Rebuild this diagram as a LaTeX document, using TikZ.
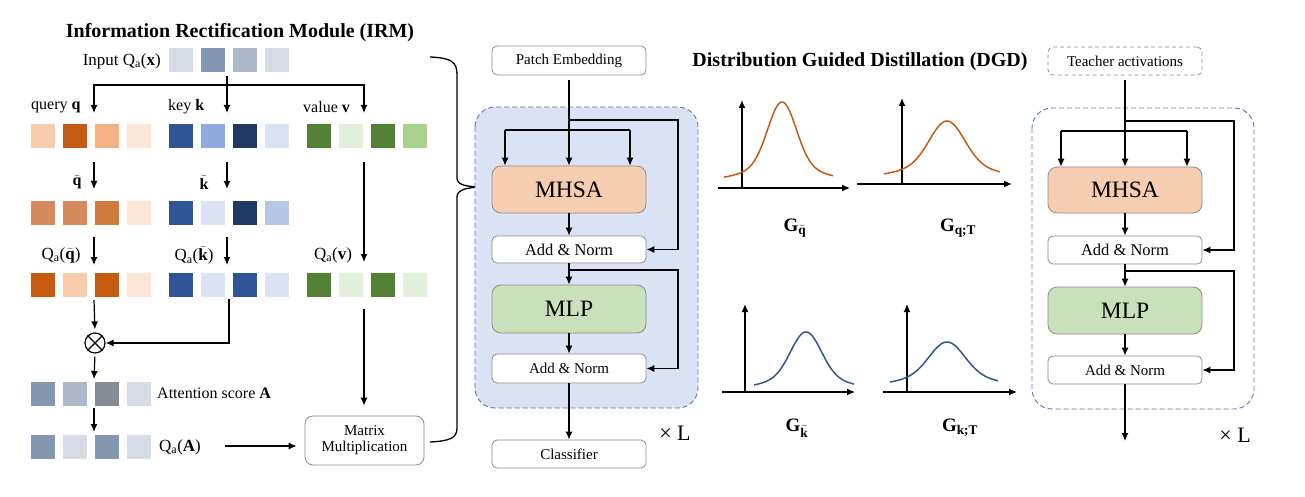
\documentclass[tikz,border=0pt]{standalone}
\usepackage{fontspec}
\setmainfont{Liberation Serif}
\usetikzlibrary{arrows.meta,calc}
\definecolor{inA}{HTML}{D6DCE5}
\definecolor{inB}{HTML}{8497B0}
\definecolor{inC}{HTML}{ADB9CA}
\definecolor{atG}{HTML}{868C96}
\definecolor{qa}{HTML}{F8CBAD}
\definecolor{qb}{HTML}{C55A11}
\definecolor{qc}{HTML}{F4B183}
\definecolor{qd}{HTML}{FBE5D6}
\definecolor{qt}{HTML}{D6895A}
\definecolor{qu}{HTML}{D07C3F}
\definecolor{ka}{HTML}{2F5597}
\definecolor{kb}{HTML}{8FAADC}
\definecolor{kc}{HTML}{203864}
\definecolor{kd}{HTML}{DAE3F3}
\definecolor{ke}{HTML}{B4C7E7}
\definecolor{va}{HTML}{548235}
\definecolor{vb}{HTML}{E2F0D9}
\definecolor{vc}{HTML}{A9D18E}
\definecolor{boxgray}{HTML}{8C8C8C}
\definecolor{dashblue}{HTML}{5A78AA}
\definecolor{blockfill}{HTML}{DAE3F3}
\definecolor{mhsafill}{HTML}{F6CDB0}
\definecolor{mlpfill}{HTML}{C9E1BA}
\definecolor{curveO}{HTML}{C55A11}
\definecolor{curveB}{HTML}{2F5597}
\newcommand{\myTitle}{\fontsize{20}{22}\selectfont\bfseries}
\newcommand{\myLab}{\fontsize{16}{18}\selectfont}
\newcommand{\myBox}{\fontsize{15}{17}\selectfont}
\newcommand{\myBig}{\fontsize{23.5}{25}\selectfont}
\newcommand{\myXL}{\fontsize{22}{24}\selectfont}
\newcommand{\myG}{\fontsize{19}{21}\selectfont\bfseries}
\begin{document}
\begin{tikzpicture}[x=1pt,y=-1pt,
  sq/.style={minimum size=24pt,inner sep=0pt,outer sep=0pt},
  box/.style={draw=boxgray,rounded corners=5pt,minimum width=154pt,inner sep=0pt,fill=white,line width=0.8pt,font=\myBox},
  bigbox/.style={box,rounded corners=9pt,minimum height=47pt,font=\myBig},
  arr/.style={-{Latex[length=8pt,width=7pt]},line width=1.2pt},
  ln/.style={line width=1.2pt},
  axis/.style={-{Latex[length=8pt,width=7pt]},line width=1.4pt},
  crv/.style={line width=1.5pt,smooth},
  lab/.style={font=\myLab,inner sep=0pt}]
\useasboundingbox (0,0) rectangle (1305,497);

% ---------------- IRM ----------------
\node[font=\myTitle] (irmT) at (240,33) {Information Rectification Module (IRM)};
\node[lab,font=\fontsize{17}{19}\selectfont,anchor=east] (inL) at (161,61) {Input Q\textsubscript{a}(\textbf{x})};
\foreach \c [count=\i] in {inA,inB,inC,inA} \node[sq,fill=\c] (in\i) at ({149+32*\i},60) {};

\coordinate (s0) at (227,76);
\coordinate (s1) at (227,85);
\coordinate (qIn) at (94,113);
\coordinate (kIn) at (227,113);
\coordinate (vIn) at (364,113);
\draw[ln] (s0) -- (s1);
\draw[arr] (s1) -| (qIn);
\draw[arr] (s1) -- (kIn);
\draw[arr] (s1) -| (vIn);

\node[lab,anchor=west] (qL) at (31,107) {query \textbf{q}};
\node[lab,anchor=west] (kL) at (168,107) {key \textbf{k}};
\node[lab,anchor=west] (vL) at (303,107) {value \textbf{v}};

% row 1
\foreach \c [count=\i] in {qa,qb,qc,qd} \node[sq,fill=\c] (q1\i) at ({11+32*\i},136) {};
\foreach \c [count=\i] in {ka,kb,kc,kd} \node[sq,fill=\c] (k1\i) at ({149+32*\i},136) {};
\foreach \c [count=\i] in {va,vb,va,vc} \node[sq,fill=\c] (v1\i) at ({286.5+32*\i},136) {};

\coordinate (q1o) at (94,162); \coordinate (q2i) at (94,189);
\coordinate (k1o) at (227,162); \coordinate (k2i) at (227,189);
\coordinate (v1o) at (364,162); \coordinate (v3i) at (364,262);
\draw[arr] (q1o) -- (q2i);
\draw[arr] (k1o) -- (k2i);
\draw[arr] (v1o) -- (v3i);
\node[lab] (qtL) at (77,182) {$\widetilde{\mathbf{q}}$};
\node[lab] (ktL) at (204,182) {$\widetilde{\mathbf{k}}$};

% row 2
\foreach \c [count=\i] in {qt,qt,qu,qd} \node[sq,fill=\c] (q2\i) at ({11+32*\i},212.5) {};
\foreach \c [count=\i] in {ka,kd,kc,ke} \node[sq,fill=\c] (k2\i) at ({149+32*\i},212.5) {};

\coordinate (q2o) at (94,237); \coordinate (q3i) at (94,265);
\coordinate (k2o) at (227,237); \coordinate (k3i) at (227,265);
\draw[arr] (q2o) -- (q3i);
\draw[arr] (k2o) -- (k3i);
\node[lab,font=\fontsize{17}{19}\selectfont] (q3L) at (61,255) {Q\textsubscript{a}($\widetilde{\mathbf{q}}$)};
\node[lab,font=\fontsize{17}{19}\selectfont] (k3L) at (194,255) {Q\textsubscript{a}($\widetilde{\mathbf{k}}$)};
\node[lab,font=\fontsize{17}{19}\selectfont] (v3L) at (333,255) {Q\textsubscript{a}(\textbf{v})};

% row 3
\foreach \c [count=\i] in {qb,qa,qb,qd} \node[sq,fill=\c] (q3\i) at ({11+32*\i},284.5) {};
\foreach \c [count=\i] in {ka,kd,ka,kd} \node[sq,fill=\c] (k3\i) at ({149+32*\i},284.5) {};
\foreach \c [count=\i] in {va,vb,va,vb} \node[sq,fill=\c] (v3\i) at ({286.5+32*\i},284.5) {};

% otimes
\node[circle,draw,line width=1.2pt,minimum size=20pt,inner sep=0pt] (ot) at (95,343) {};
\draw[line width=1.1pt] (ot.north west) -- (ot.south east) (ot.north east) -- (ot.south west);
\coordinate (q3o) at (94,300);
\coordinate (k3o) at (229,299);
\draw[arr,shorten >=3pt] (q3o) -- (ot.north);
\draw[arr] (k3o) |- (ot.east);
\coordinate (atIn) at (94,379);
\draw[arr,shorten <=3pt] (ot.south) -- (atIn);

% attention
\foreach \c [count=\i] in {inB,inC,atG,inA} \node[sq,fill=\c] (a\i) at ({11+32*\i},394) {};
\node[lab,anchor=west] (aL) at (157,393) {Attention score \textbf{A}};
\coordinate (aO) at (94,408); \coordinate (qaI) at (94,432);
\draw[arr] (aO) -- (qaI);
\foreach \c [count=\i] in {inB,inA,inB,inA} \node[sq,fill=\c] (qa\i) at ({11+32*\i},447) {};
\node[lab,font=\fontsize{17}{19}\selectfont,anchor=west] (qaL) at (159,447) {Q\textsubscript{a}(\textbf{A})};

\node[box,minimum width=119pt,minimum height=49pt,align=center,rounded corners=8pt] (mm) at (364.5,440.5) {Matrix\\[-1pt]Multiplication};
\coordinate (qaO) at (225,446);
\draw[arr,shorten >=8pt] (qaO) -- (qaO -| mm.west);
\coordinate (v3o) at (364,309);
\draw[arr,shorten >=10pt] (v3o) -- (v3o |- mm.north);

% brace
\draw[line width=1.3pt] (430,57) .. controls (452,58) and (457,62) .. (457,75)
  -- (457,178) .. controls (457,185) and (466,187) .. (485,187)
  (485,187) .. controls (466,187) and (457,190) .. (457,197)
  -- (457,428) .. controls (457,438) and (450,441) .. (430,442);

% ---------------- student block ----------------
\draw[dashed,dash pattern=on 5pt off 3pt,draw=dashblue,fill=blockfill,rounded corners=20pt,line width=0.9pt] (475,107) rectangle (698,408);
\node[box,minimum height=29pt] (pe) at (569,60.5) {Patch Embedding};
\node[bigbox,fill=mhsafill] (mh1) at (569,189.5) {MHSA};
\node[box,minimum height=27pt,font=\fontsize{16.5}{18}\selectfont] (an1) at (569,249.5) {Add \& Norm};
\node[bigbox,fill=mlpfill,minimum height=48pt] (ml1) at (569,309) {MLP};
\node[box,minimum height=29pt] (an2) at (569,368.5) {Add \& Norm};
\node[box,minimum height=28pt] (cls) at (569,454) {Classifier};

\coordinate (pe0) at (569,80);
\draw[arr] (pe0) -- (mh1.north);
\coordinate (b1) at (569,120);
\coordinate (b1r) at (678,120);
\draw[arr] (b1) -- (b1r) |- (an1.east);
\coordinate (b2l) at (505,130);
\coordinate (b2r) at (630,130);
\draw[ln] (b2l) -- (b2r);
\draw[arr] (b2l) -- (b2l |- mh1.north);
\draw[arr] (b2r) -- (b2r |- mh1.north);
\draw[arr] (mh1.south) -- (an1.north);
\draw[arr] (an1.south) -- (ml1.north);
\coordinate (b3) at (569,270);
\coordinate (b3r) at (678,270);
\draw[arr] (b3) -- (b3r) |- (an2.east);
\draw[arr] (ml1.south) -- (an2.north);
\draw[arr] (an2.south) -- (cls.north);
\node[font=\myXL] (xl1) at (675,433) {× L};

% ---------------- DGD ----------------
\node[font=\myTitle] (dgdT) at (860,62) {Distribution Guided Distillation (DGD)};

% graph 1
\draw[axis] (718,188) -- (850,188);
\draw[axis] (742,188) -- (742,100);
\draw[crv,curveO] plot[domain=724:833,samples=90] (\x,{181-64*exp(((\x-782)^2)/(-392))-15*exp(((\x-782)^2)/(-2450))});
\node[font=\myG] (g1L) at (795,228) {G\textsubscript{$\widetilde{\mathbf{q}}$}};
% graph 2
\draw[axis] (857,184) -- (1012,184);
\draw[axis] (902,184) -- (902,98);
\draw[crv,curveO] plot[domain=884:1000,samples=90] (\x,{178-43*exp(((\x-947)^2)/(-578))-14*exp(((\x-947)^2)/(-3200))});
\node[font=\myG] (g2L) at (958,228) {G\textsubscript{\textbf{q};T}};
% graph 3
\draw[axis] (722,392) -- (855,392);
\draw[axis] (745,392) -- (745,304);
\draw[crv,curveB] plot[domain=754:854,samples=90] (\x,{389-45*exp(((\x-806)^2)/(-450))-12*exp(((\x-806)^2)/(-2450))});
\node[font=\myG] (g3L) at (797,428) {G\textsubscript{$\widetilde{\mathbf{k}}$}};
% graph 4
\draw[axis] (883,392) -- (1017,392);
\draw[axis] (907,392) -- (907,304);
\draw[crv,curveB] plot[domain=890:998,samples=90] (\x,{386-32*exp(((\x-947)^2)/(-578))-12*exp(((\x-947)^2)/(-2888))});
\node[font=\myG] (g4L) at (960,428) {G\textsubscript{\textbf{k};T}};

% ---------------- teacher block ----------------
\draw[dashed,dash pattern=on 5pt off 3pt,draw=dashblue,rounded corners=20pt,line width=0.9pt] (1032,108) rectangle (1254,409);
\node[box,minimum height=28pt,dashed,dash pattern=on 4pt off 3pt,draw=boxgray] (ta) at (1125,61) {Teacher activations};
\node[bigbox,fill=mhsafill,minimum height=46pt] (mh2) at (1125,190) {MHSA};
\node[box,minimum height=28pt,font=\fontsize{16.5}{18}\selectfont] (an3) at (1125,250) {Add \& Norm};
\node[bigbox,fill=mlpfill] (ml2) at (1125,310.5) {MLP};
\node[box,minimum height=28pt] (an4) at (1125,370) {Add \& Norm};

\coordinate (ta0) at (1125,80);
\draw[arr] (ta0) -- (mh2.north);
\coordinate (c1) at (1125,121);
\coordinate (c1r) at (1234,121);
\draw[arr] (c1) -- (c1r) |- (an3.east);
\coordinate (c2l) at (1061,131);
\coordinate (c2r) at (1187,131);
\draw[ln] (c2l) -- (c2r);
\draw[arr] (c2l) -- (c2l |- mh2.north);
\draw[arr] (c2r) -- (c2r |- mh2.north);
\draw[arr] (mh2.south) -- (an3.north);
\draw[arr] (an3.south) -- (ml2.north);
\coordinate (c3) at (1125,271);
\coordinate (c3r) at (1234,271);
\draw[arr] (c3) -- (c3r) |- (an4.east);
\draw[arr] (ml2.south) -- (an4.north);
\coordinate (tOut) at (1125,441);
\draw[arr] (an4.south) -- (tOut);
\node[font=\myXL] (xl2) at (1235,435) {× L};
\end{tikzpicture}
\end{document}
